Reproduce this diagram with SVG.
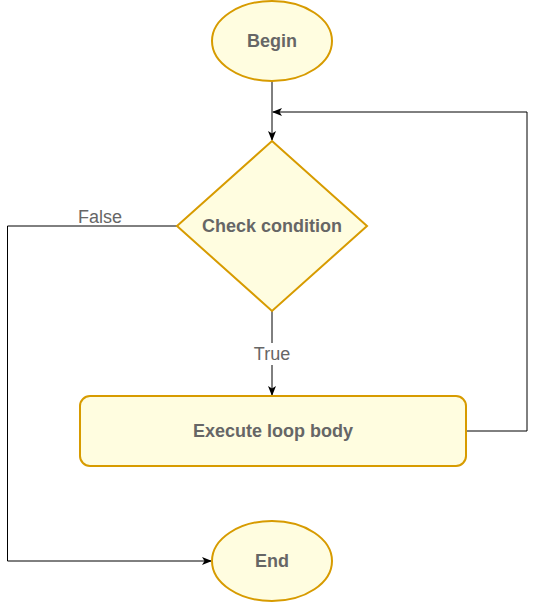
<svg xmlns="http://www.w3.org/2000/svg" width="536" height="603" viewBox="0 0 536 603">
  <style>
    .node { fill: #fffde0; stroke: #d79b00; stroke-width: 2; }
    .title { font-family: "Liberation Sans", Arial, sans-serif; font-size: 18px; font-weight: bold; fill: #666666; text-anchor: middle; }
    .label { font-family: "Liberation Sans", Arial, sans-serif; font-size: 18px; fill: #666666; text-anchor: middle; }
    .edge { fill: none; stroke: #000000; stroke-width: 1; }
  </style>
  <defs>
    <marker id="arrow" viewBox="0 0 10 8" refX="9" refY="4" markerWidth="10" markerHeight="8" markerUnits="userSpaceOnUse" orient="auto">
      <path d="M0,0 L10,4 L0,8 L2.5,4 Z" fill="#000000"/>
    </marker>
  </defs>
  <rect width="536" height="603" fill="#ffffff"/>

  <g id="connectors">
    <path class="edge" d="M272,81 L272,140" marker-end="url(#arrow)"/>
    <path class="edge" d="M272,311 L272,395" marker-end="url(#arrow)"/>
    <rect x="252" y="343" width="42" height="22" fill="#ffffff"/>
    <text class="label" x="272" y="360">True</text>
    <path class="edge" d="M466,431 L527,431 L527,112 L273,112" marker-end="url(#arrow)"/>
    <path class="edge" d="M177,226 L7.5,226 L7.5,561 L211,561" marker-end="url(#arrow)"/>
    <text class="label" x="100" y="223">False</text>
  </g>

  <g id="begin">
    <ellipse class="node" cx="272" cy="41" rx="60" ry="40"/>
    <text class="title" x="272" y="47">Begin</text>
  </g>

  <g id="check">
    <polygon class="node" points="272,141 367,226 272,311 177,226"/>
    <text class="title" x="272" y="232">Check condition</text>
  </g>

  <g id="body">
    <rect class="node" x="80" y="396" width="386" height="70" rx="10" ry="10"/>
    <text class="title" x="273" y="437">Execute loop body</text>
  </g>

  <g id="end">
    <ellipse class="node" cx="272" cy="561" rx="60" ry="40"/>
    <text class="title" x="272" y="567">End</text>
  </g>
</svg>
